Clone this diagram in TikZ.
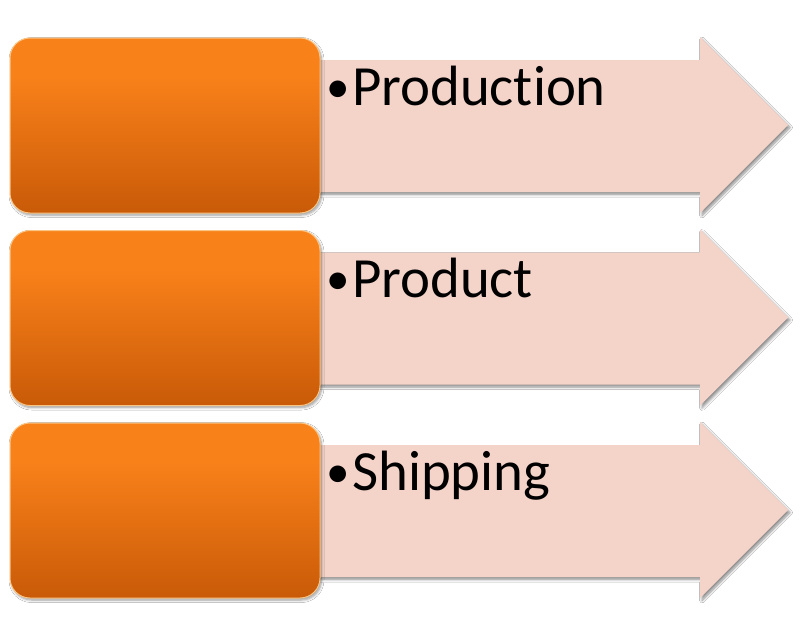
\documentclass[tikz,border=0pt]{standalone}
\usepackage{fontspec}
\setmainfont{Carlito}[Ligatures={NoCommon}]
\usetikzlibrary{shadows.blur}
\definecolor{otop}{RGB}{249,129,26}
\definecolor{obot}{RGB}{197,87,6}
\definecolor{oedge}{RGB}{250,196,130}
\definecolor{arrowfill}{RGB}{244,211,201}
\pgfdeclareverticalshading{boxshade}{100bp}{color(0bp)=(obot); color(22bp)=(obot); color(64bp)=(otop); color(100bp)=(otop)}
\tikzset{
  arrowshape/.style={fill=arrowfill, blur shadow={shadow xshift=2pt, shadow yshift=-2.5pt, shadow blur steps=6, shadow opacity=45, shadow blur radius=2.5pt}},
  boxshape/.style={shading=boxshade, draw=oedge, line width=1pt, rounded corners=20pt, blur shadow={shadow xshift=1.5pt, shadow yshift=-2pt, shadow blur steps=6, shadow opacity=40, shadow blur radius=2.5pt}},
  label/.style={anchor=base west, inner sep=0pt, font=\fontsize{56.8}{60}\selectfont, text=black}
}
\begin{document}
\begin{tikzpicture}[x=1pt,y=-1pt]
\useasboundingbox (0,0) rectangle (800,640);
\fill[white] (0,0) rectangle (800,640);
\foreach \dy/\txt/\nm in {0/Production/r1, 192.5/Product/r2, 385/Shipping/r3}{
  \begin{scope}[yshift=-\dy pt]
    \draw[arrowshape, draw=none] (300,60) -- (700,60) -- (700,37) -- (788,125) -- (700,213) -- (700,192) -- (300,192) -- cycle;
    \draw[boxshape] (10,38) rectangle (320,213);
    \node[label] (\nm) at (326,105) {\raisebox{3pt}{\fontsize{47}{47}\selectfont •}\kern2.5pt\txt};
  \end{scope}
}
\end{tikzpicture}
\end{document}
